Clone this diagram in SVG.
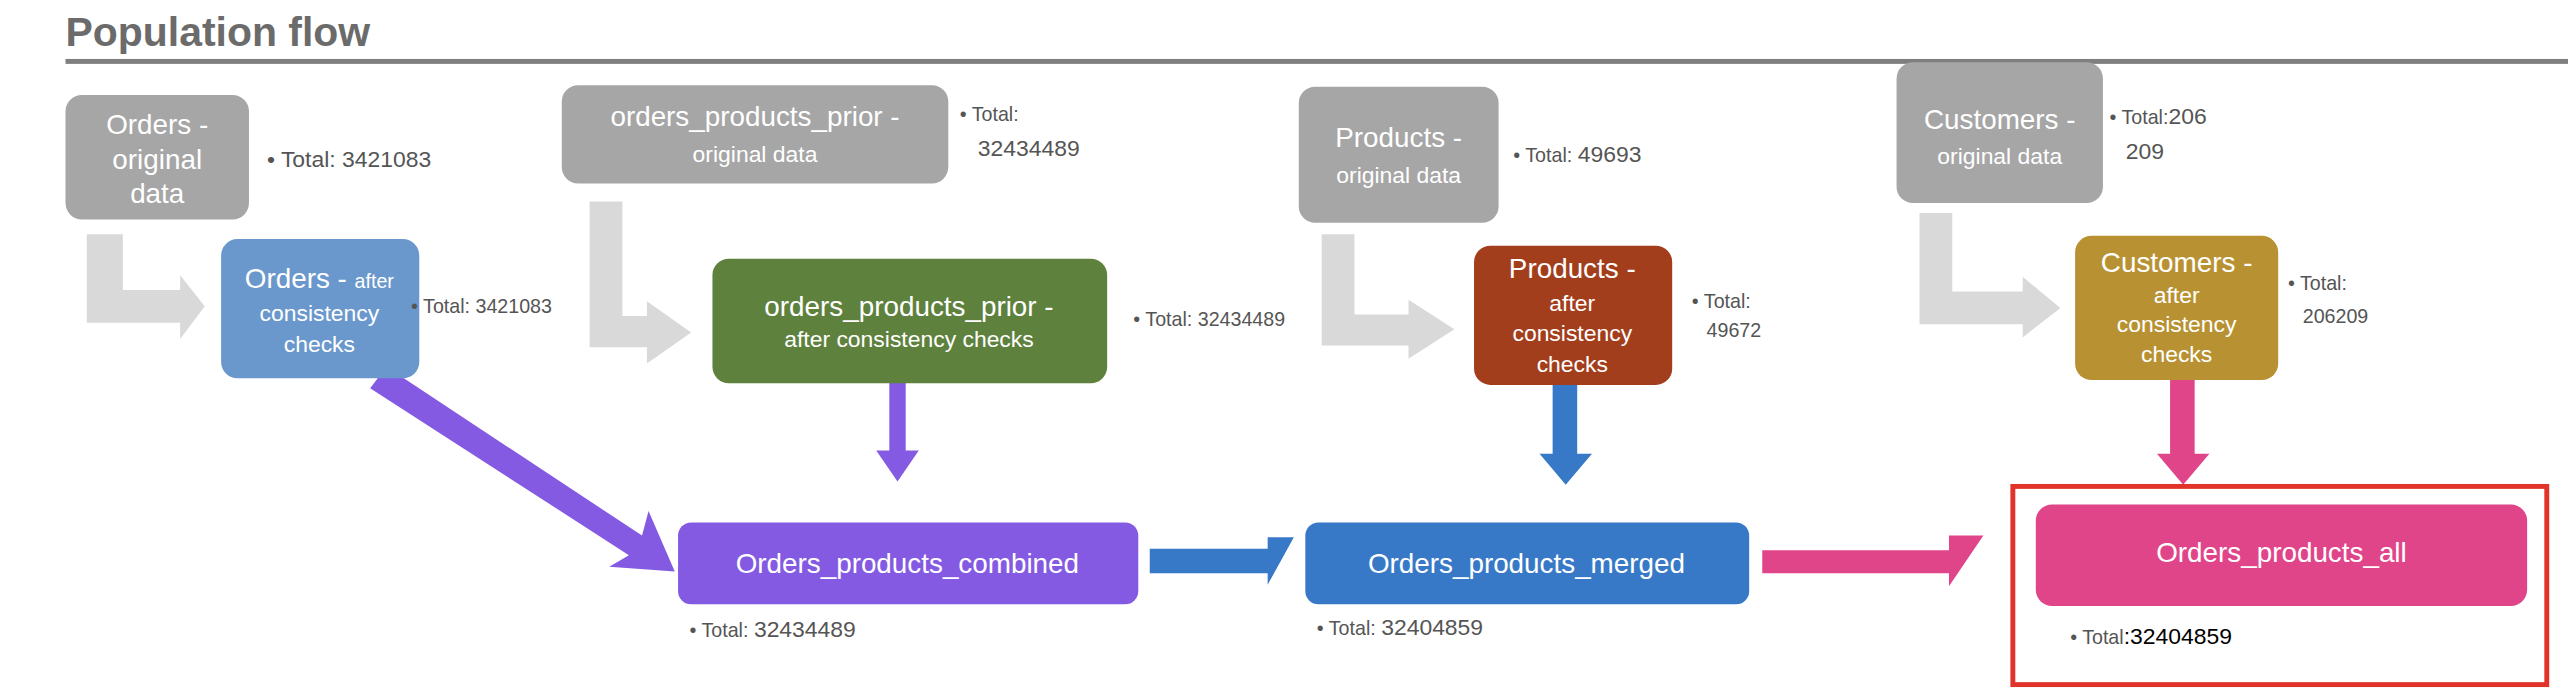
<svg xmlns="http://www.w3.org/2000/svg" width="2568" height="698" viewBox="0 0 2568 698">
<style>
text{font-family:"Liberation Sans","DejaVu Sans",sans-serif}
.n{fill:#fff;text-anchor:middle;font-size:14px}
.nb{fill:#fff;text-anchor:middle;font-size:17px}
.t{fill:#555;font-size:12px}
.tb{fill:#555;font-size:14px}
.g{fill:#d9d9d9}
</style>
<rect width="2568" height="698" fill="#fff"/>
<g transform="scale(1.6378)">
<text x="40" y="28" font-size="25" font-weight="bold" fill="#6b6b6b">Population flow</text>
<rect x="40" y="36" width="1528" height="3" fill="#7f7f7f"/>
<g id="connectors">
<path class="g" d="M53 143H75V177H110V168L125 187L110 207V197H53Z"/>
<path class="g" d="M360 123H380V193H395V184L422 203L395 222V212H360Z"/>
<path class="g" d="M807 143H827V192H860V183L888 201L860 219V211H807Z"/>
<path class="g" d="M1172 130H1192V178H1235V169L1258 188L1235 206V198H1172Z"/>
<path fill="#845ae3" d="M226 237L236 224L392 327L396 312L412 349L372 346L384 339Z"/>
<path fill="#845ae3" d="M543 232H553V275H561L548 294L535 275H543Z"/>
<path fill="#3879c7" d="M948 232H963V277H972L956 296L940 277H948Z"/>
<path fill="#e0458a" d="M1325 232H1340V277H1349L1333 296L1317 277H1325Z"/>
<path fill="#3879c7" d="M702 335H774V328H790L774 357V350H702Z" transform="translate(0,0)"/>
<path fill="#e0458a" d="M1076 336H1190V327H1211L1190 358V350H1076Z"/>
</g>
<g id="n1"><rect x="40" y="58" width="112" height="76" rx="10" fill="#a6a6a6"/>
<text class="nb" x="96" y="82">Orders -</text><text class="nb" x="96" y="103">original</text><text class="nb" x="96" y="124">data</text>
<text class="tb" x="163" y="102">• Total: 3421083</text></g>
<g id="n2"><rect x="343" y="52" width="236" height="60" rx="10" fill="#a6a6a6"/>
<text class="nb" x="461" y="77">orders_products_prior -</text><text class="n" x="461" y="99" font-size="15">original data</text>
<text class="t" x="586" y="74">• Total:</text><text class="tb" x="597" y="95">32434489</text></g>
<g id="n3"><rect x="793" y="53" width="122" height="83" rx="10" fill="#a6a6a6"/>
<text class="nb" x="854" y="90">Products -</text><text class="n" x="854" y="112" font-size="15">original data</text>
<text class="t" x="924" y="99">• Total: <tspan font-size="14">49693</tspan></text></g>
<g id="n4"><rect x="1158" y="38" width="126" height="86" rx="10" fill="#a6a6a6"/>
<text class="nb" x="1221" y="79">Customers -</text><text class="n" x="1221" y="100" font-size="15">original data</text>
<text class="t" x="1288" y="76">• Total:<tspan font-size="14">206</tspan></text><text class="tb" x="1298" y="97">209</text></g>
<g id="n5"><rect x="135" y="146" width="121" height="85" rx="10" fill="#6a98cd"/>
<text class="nb" x="195" y="176">Orders - <tspan font-size="12">after</tspan></text><text class="n" x="195" y="196" font-size="12">consistency</text><text class="n" x="195" y="215" font-size="12">checks</text>
<text class="t" x="251" y="191">• Total: 3421083</text></g>
<g id="n6"><rect x="435" y="158" width="241" height="76" rx="10" fill="#5e813d"/>
<text class="nb" x="555" y="193">orders_products_prior -</text><text class="n" x="555" y="212" font-size="12">after consistency checks</text>
<text class="t" x="692" y="199">• Total: 32434489</text></g>
<g id="n7"><rect x="900" y="150" width="121" height="85" rx="10" fill="#a33e1c"/>
<text class="nb" x="960" y="170">Products -</text><text class="n" x="960" y="190" font-size="13">after</text><text class="n" x="960" y="208" font-size="13">consistency</text><text class="n" x="960" y="227" font-size="13">checks</text>
<text class="t" x="1033" y="188">• Total:</text><text class="t" x="1042" y="206">49672</text></g>
<g id="n8"><rect x="1267" y="144" width="124" height="88" rx="10" fill="#b89232"/>
<text class="nb" x="1329" y="166">Customers -</text><text class="n" x="1329" y="185" font-size="13">after</text><text class="n" x="1329" y="203" font-size="13">consistency</text><text class="n" x="1329" y="221" font-size="13">checks</text>
<text class="t" x="1397" y="177">• Total:</text><text class="t" x="1406" y="197">206209</text></g>
<g id="n9"><rect x="414" y="319" width="281" height="50" rx="8" fill="#845ae3"/>
<text class="nb" x="554" y="350">Orders_products_combined</text>
<text class="t" x="421" y="389">• Total: <tspan font-size="14">32434489</tspan></text></g>
<g id="n10"><rect x="797" y="319" width="271" height="50" rx="8" fill="#3879c7"/>
<text class="nb" x="932" y="350">Orders_products_merged</text>
<text class="t" x="804" y="388">• Total: <tspan font-size="14">32404859</tspan></text></g>
<g id="n11"><rect x="1229" y="297" width="326" height="121" fill="none" stroke="#e2332a" stroke-width="3"/>
<rect x="1243" y="308" width="300" height="62" rx="10" fill="#e0458a"/>
<text class="nb" x="1393" y="343">Orders_products_all</text>
<text class="t" x="1264" y="393">• Total<tspan fill="#000" font-size="14">:32404859</tspan></text></g>
</g>
</svg>
